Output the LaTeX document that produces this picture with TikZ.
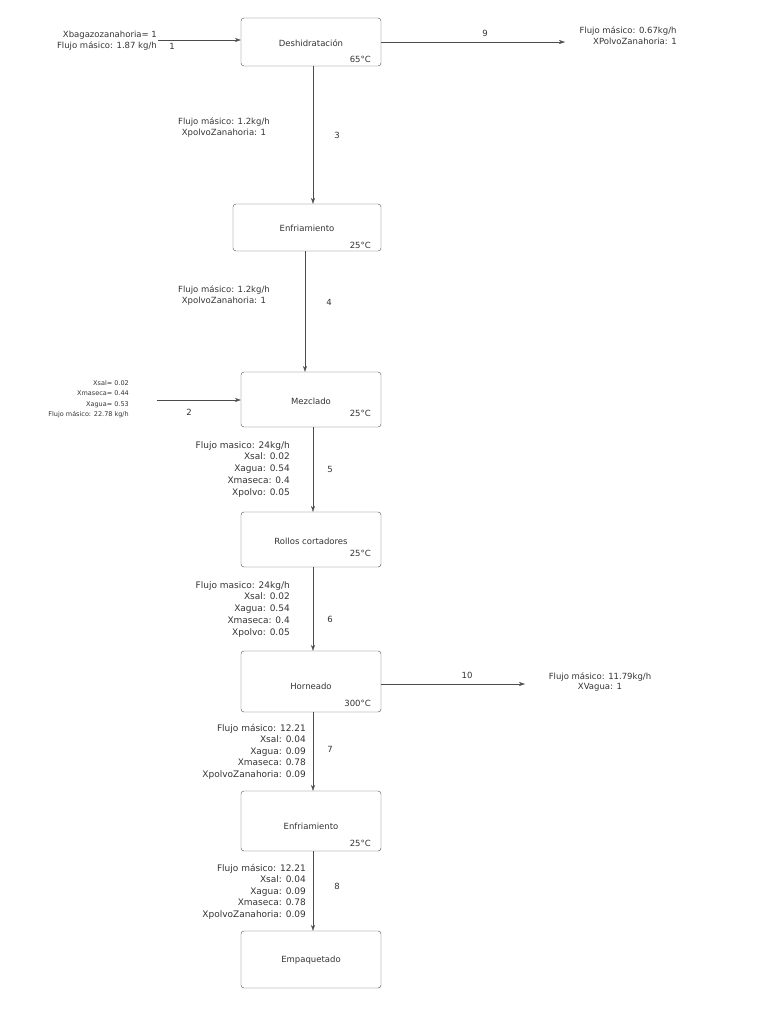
\documentclass[tikz,border=0pt]{standalone}
\usepackage{fontspec}
\setmainfont{DejaVu Sans}
\usetikzlibrary{arrows.meta}
\tikzset{
	proc/.style={draw=black!70,rounded corners=3pt,minimum width=140pt,inner sep=0pt},
	flow/.style={draw=black!70,-{Stealth[length=6pt,width=4pt]}},
	lbl/.style={font=\fontsize{8.5}{10.5}\selectfont,text=black!80,align=right,inner sep=0pt},
	tiny/.style={font=\fontsize{6.5}{10.5}\selectfont,text=black!80,align=right,inner sep=0pt},
	num/.style={font=\fontsize{8.5}{10}\selectfont,text=black!80,inner sep=0pt}
}
\begin{document}
\begin{tikzpicture}[x=1pt,y=-1pt]
	\useasboundingbox (0,0) rectangle (768,1024);
	% process boxes
	\node[proc,minimum height=48pt] (desh) at (311,42) {};
	\node[proc,minimum height=47pt,minimum width=148pt] (enf1) at (307,227.5) {};
	\node[proc,minimum height=55pt] (mez) at (311,399.5) {};
	\node[proc,minimum height=55pt] (rol) at (311,539.5) {};
	\node[proc,minimum height=61pt] (horn) at (311,681.5) {};
	\node[proc,minimum height=60pt] (enf2) at (311,821) {};
	\node[proc,minimum height=57pt] (emp) at (311,959.5) {};
	\node[lbl] (t1) at (311,43) {Deshidratación};
	\node[lbl,anchor=east] (c1) at (371,59) {65°C};
	\node[lbl] (t2) at (307,228) {Enfriamiento};
	\node[lbl,anchor=east] (c2) at (371,245) {25°C};
	\node[lbl] (t3) at (311,401) {Mezclado};
	\node[lbl,anchor=east] (c3) at (371,413) {25°C};
	\node[lbl] (t4) at (311,541) {Rollos cortadores};
	\node[lbl,anchor=east] (c4) at (371,553) {25°C};
	\node[lbl] (t5) at (311,686) {Horneado};
	\node[lbl,anchor=east] (c5) at (371,703) {300°C};
	\node[lbl] (t6) at (311,826) {Enfriamiento};
	\node[lbl,anchor=east] (c6) at (371,843) {25°C};
	\node[lbl] (t7) at (311,960) {Empaquetado};
	% free ends
	\coordinate (in1) at (158,40);
	\coordinate (in2) at (157,400);
	\coordinate (out9) at (565,42);
	\coordinate (out10) at (525,684);
	% streams
	\draw[flow] (in1) -- (in1 -| desh.west);
	\draw[flow] (desh.east |- out9) -- (out9);
	\draw[flow] (desh.south -| 313,0) -- (enf1.north -| 313,0);
	\draw[flow] (enf1.south -| 305,0) -- (mez.north -| 305,0);
	\draw[flow] (in2) -- (in2 -| mez.west);
	\draw[flow] (mez.south -| 313,0) -- (rol.north -| 313,0);
	\draw[flow] (rol.south -| 313,0) -- (horn.north -| 313,0);
	\draw[flow] (horn.east |- out10) -- (out10);
	\draw[flow] (horn.south -| 313,0) -- (enf2.north -| 313,0);
	\draw[flow] (enf2.south -| 313,0) -- (emp.north -| 313,0);
	% stream numbers
	\node[num] (n1) at (172,46) {1};
	\node[num] (n9) at (485,33) {9};
	\node[num] (n3) at (337,135) {3};
	\node[num] (n4) at (329,302) {4};
	\node[num] (n2) at (189,412) {2};
	\node[num] (n5) at (330,469) {5};
	\node[num] (n6) at (330,619) {6};
	\node[num] (n10) at (467,675) {10};
	\node[num] (n7) at (330,749) {7};
	\node[num] (n8) at (337,886) {8};
	% stream data
	\node[lbl,anchor=north east] (d1) at (157,31) {Xbagazozanahoria= 1\\Flujo másico: 1.87 kg/h};
	\node[lbl,anchor=north,align=center] (d9) at (628,27) {Flujo másico: 0.67kg/h\\\hspace*{14pt}XPolvoZanahoria: 1};
	\node[lbl,anchor=north east,align=center] (d3) at (270,118) {Flujo másico: 1.2kg/h\\XpolvoZanahoria: 1};
	\node[lbl,anchor=north east,align=center] (d4) at (270,286) {Flujo másico: 1.2kg/h\\XpolvoZanahoria: 1};
	\node[tiny,anchor=north east] (d2) at (129,380) {Xsal= 0.02\\Xmaseca= 0.44\\Xagua= 0.53\\Flujo másico: 22.78 kg/h};
	\node[lbl,anchor=north east,font=\fontsize{9}{11.8}\selectfont] (d5) at (290,441) {Flujo masico: 24kg/h\\Xsal: 0.02\\Xagua: 0.54\\Xmaseca: 0.4\\Xpolvo: 0.05};
	\node[lbl,anchor=north east,font=\fontsize{9}{11.8}\selectfont] (d6) at (290,581) {Flujo masico: 24kg/h\\Xsal: 0.02\\Xagua: 0.54\\Xmaseca: 0.4\\Xpolvo: 0.05};
	\node[lbl,anchor=north,align=center] (d10) at (600,672) {Flujo másico: 11.79kg/h\\XVagua: 1};
	\node[lbl,anchor=north east,font=\fontsize{9}{11.5}\selectfont] (d7) at (306,724) {Flujo másico: 12.21\\Xsal: 0.04\\Xagua: 0.09\\Xmaseca: 0.78\\XpolvoZanahoria: 0.09};
	\node[lbl,anchor=north east,font=\fontsize{9}{11.5}\selectfont] (d8) at (306,864) {Flujo másico: 12.21\\Xsal: 0.04\\Xagua: 0.09\\Xmaseca: 0.78\\XpolvoZanahoria: 0.09};
\end{tikzpicture}
\end{document}
